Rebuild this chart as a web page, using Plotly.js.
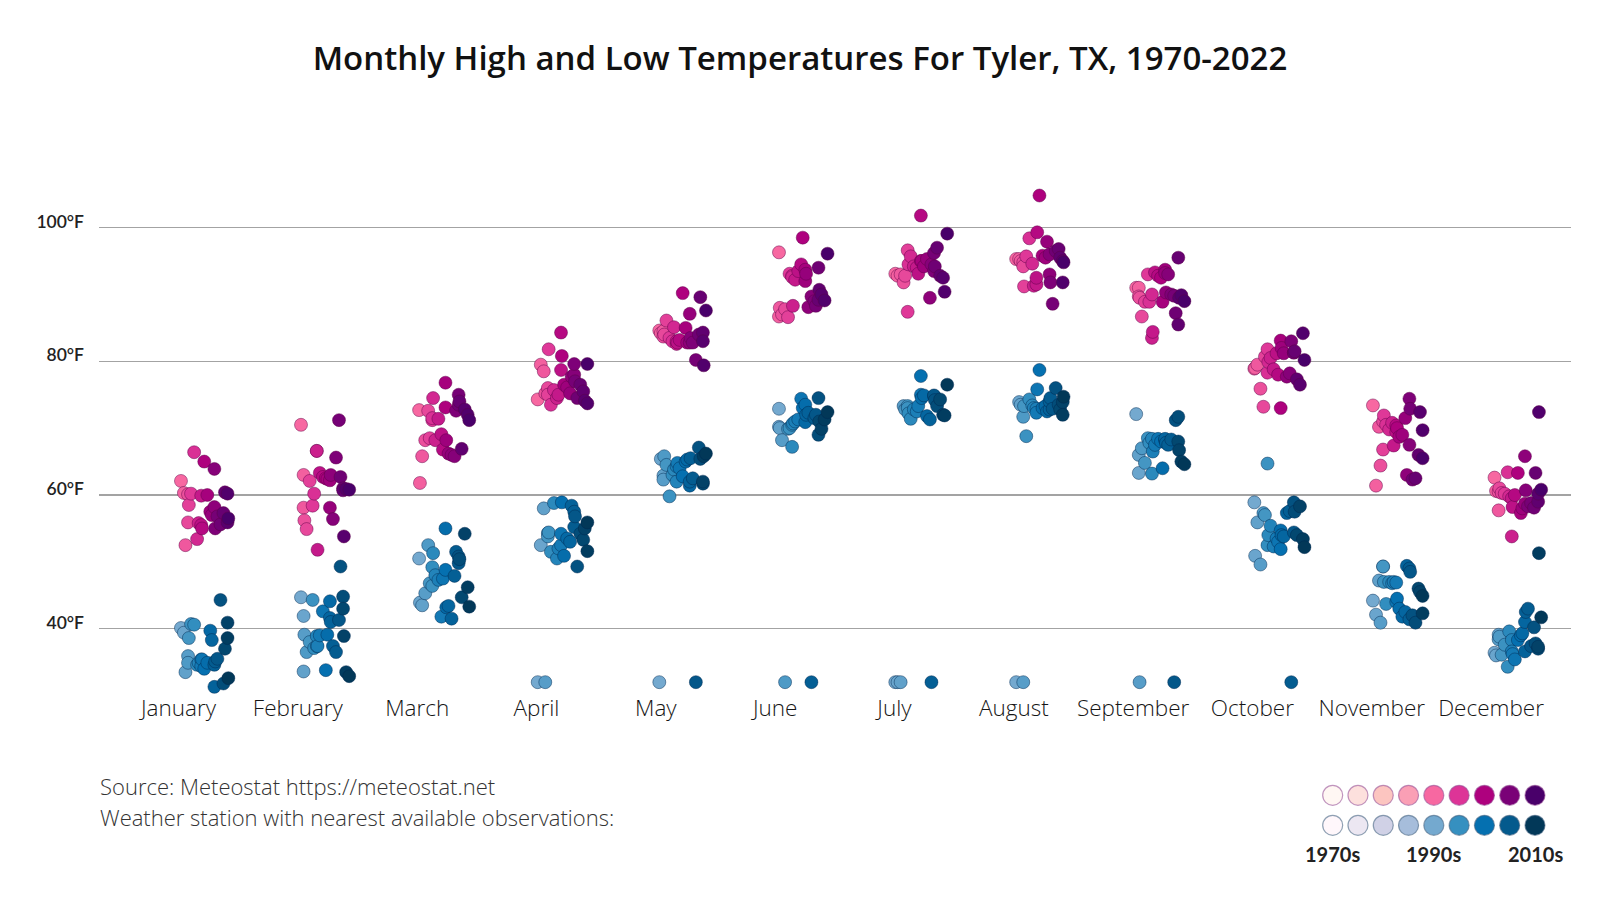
<!DOCTYPE html>
<html>
<head>
<meta charset="utf-8">
<script src="https://cdn.plot.ly/plotly-3.0.1.min.js"></script>
<style>
  html, body { margin: 0; padding: 0; background: #fff; }
  #chart { width: 1600px; height: 898px; }
</style>
</head>
<body>
<div id="chart"></div>
<script>
// Years of record shown in the strip plot (one value per year and month).
const years = [1996, 1997, 1998, 1999, 2000, 2001, 2002, 2003, 2004, 2005, 2006, 2007, 2008, 2009,
               2010, 2011, 2012, 2013, 2014, 2015, 2016, 2017, 2018, 2019, 2020, 2021, 2022];

const months = ['January', 'February', 'March', 'April', 'May', 'June', 'July',
                'August', 'September', 'October', 'November', 'December'];

// Average daily high (°F) per month, in year order.
const janHigh = [62.1, 60.3, 52.5, 60.1, 55.9, 58.5, 60.2, 66.4, 53.4, 55.8, 59.9, 55.5, 55.0, 65.0, 60.0, 57.5, 57.0, 58.2, 63.9, 55.0, 56.8, 55.6, 57.3, 60.4, 55.9, 60.2, 56.5];
const febHigh = [70.5, 63.0, 58.1, 56.2, 54.9, 62.1, 58.4, 60.2, 66.6, 66.6, 51.8, 63.3, 62.7, 62.5, 62.4, 62.2, 58.1, 63.0, 56.4, 65.6, 71.2, 62.7, 61.0, 60.7, 53.8, 60.9, 60.8];
const marHigh = [72.7, 61.8, 65.8, 68.2, 72.6, 68.5, 71.2, 71.5, 74.5, 68.2, 71.4, 69.1, 66.8, 73.1, 76.8, 68.2, 66.2, 66.0, 65.8, 72.6, 75.0, 73.5, 74.0, 66.9, 72.8, 72.0, 71.2];
const aprHigh = [74.3, 79.5, 78.5, 75.2, 76.0, 75.0, 81.8, 73.5, 75.7, 74.5, 75.0, 78.7, 84.3, 80.8, 76.5, 76.1, 75.2, 77.7, 78.0, 79.6, 77.0, 74.5, 76.5, 75.5, 74.1, 73.7, 79.6];
const mayHigh = [84.6, 84.2, 84.5, 83.7, 84.0, 86.1, 83.5, 83.0, 85.1, 82.6, 83.0, 82.8, 83.2, 90.2, 85.0, 82.8, 87.1, 82.8, 83.5, 82.8, 80.2, 84.0, 89.6, 84.3, 83.0, 79.4, 87.6];
const junHigh = [96.3, 86.7, 88.0, 87.0, 87.8, 86.6, 93.1, 92.8, 92.6, 88.3, 92.2, 93.5, 94.5, 98.5, 93.7, 92.0, 93.1, 88.1, 89.7, 89.0, 88.3, 94.0, 89.2, 90.7, 90.0, 89.1, 96.1];
const julHigh = [93.1, 92.8, 93.0, 91.8, 92.8, 96.6, 87.4, 94.5, 95.7, 94.2, 94.0, 93.1, 101.8, 95.0, 95.0, 94.2, 95.3, 89.5, 94.5, 93.5, 96.2, 94.2, 97.0, 92.8, 92.5, 90.4, 99.1];
const augHigh = [95.3, 95.3, 95.0, 94.8, 94.2, 91.2, 95.7, 98.4, 94.6, 91.3, 91.5, 92.5, 99.3, 104.8, 95.8, 95.5, 97.9, 93.0, 96.0, 91.8, 88.6, 96.5, 96.8, 95.5, 95.0, 91.8, 94.8];
const sepHigh = [91.0, 91.0, 89.7, 89.5, 86.7, 88.9, 93.0, 88.9, 90.0, 83.5, 84.4, 93.3, 92.8, 92.5, 88.9, 93.7, 93.2, 90.3, 93.0, 90.0, 89.8, 87.2, 95.5, 85.5, 89.5, 89.9, 89.0];
const octHigh = [78.9, 79.0, 79.5, 75.9, 73.2, 80.7, 81.8, 78.3, 79.9, 80.5, 78.8, 81.2, 78.0, 73.0, 83.1, 82.0, 81.2, 77.7, 78.2, 83.0, 81.3, 81.3, 81.5, 77.3, 76.5, 84.2, 80.2];
const novHigh = [73.4, 61.4, 70.2, 64.4, 71.0, 66.8, 71.9, 70.5, 69.8, 70.8, 67.4, 69.4, 70.4, 70.0, 68.7, 69.0, 71.5, 63.0, 67.5, 74.4, 72.9, 62.3, 62.5, 66.0, 72.4, 69.7, 65.5];
const decHigh = [62.6, 60.6, 57.7, 60.5, 61.0, 60.3, 60.2, 63.4, 59.8, 53.8, 59.5, 58.2, 60.0, 63.3, 57.3, 58.0, 58.7, 65.8, 60.7, 58.3, 58.8, 58.1, 63.3, 59.0, 60.2, 72.4, 60.8];

// Average daily low (°F) per month, in year order (32 = station reported 0 °C).
const janLow = [40.1, 39.4, 33.5, 35.9, 34.9, 38.6, 40.7, 40.6, 34.6, 34.9, 35.4, 34.4, 35.4, 34.0, 34.9, 39.7, 38.3, 31.3, 34.6, 35.1, 35.5, 44.3, 31.8, 37.0, 40.9, 38.6, 32.6];
const febLow = [44.7, 41.9, 33.6, 39.1, 36.5, 38.0, 44.3, 37.1, 37.4, 38.9, 37.4, 39.0, 42.6, 33.8, 39.1, 44.1, 41.6, 41.0, 37.4, 36.5, 41.3, 49.3, 44.8, 43.0, 38.9, 33.5, 32.9];
const marLow = [50.5, 43.9, 43.5, 45.3, 52.5, 46.8, 46.4, 49.2, 51.3, 48.0, 47.3, 41.8, 47.5, 48.8, 55.0, 43.2, 43.4, 41.5, 47.9, 51.5, 49.8, 50.8, 50.4, 44.7, 54.2, 46.2, 43.3];
const aprLow = [32, 52.5, 58.0, 32, 54.3, 53.8, 54.4, 51.5, 58.8, 50.5, 52.0, 52.5, 54.2, 58.9, 50.9, 53.5, 53.0, 58.4, 57.5, 55.2, 56.8, 49.3, 54.2, 53.3, 55.0, 51.6, 55.9];
const mayLow = [32, 65.4, 62.9, 62.3, 65.8, 64.5, 59.8, 63.0, 63.8, 62.0, 64.3, 64.8, 64.0, 62.8, 65.0, 65.3, 61.4, 62.0, 65.5, 62.5, 32, 67.1, 65.4, 61.7, 62.0, 65.8, 66.2];
const junLow = [72.9, 70.2, 70.0, 68.2, 32, 69.9, 70.0, 70.5, 67.2, 70.7, 71.0, 71.3, 74.4, 73.0, 73.5, 70.9, 72.0, 72.3, 32, 71.5, 72.0, 74.5, 69.0, 71.0, 69.9, 71.3, 72.4];
const julLow = [32, 32, 32, 73.3, 72.8, 73.3, 73.0, 72.2, 71.4, 72.8, 72.5, 73.3, 75.0, 77.8, 74.5, 74.9, 71.8, 71.3, 32, 74.8, 74.9, 74.2, 73.3, 74.3, 72.0, 71.9, 76.5];
const augLow = [32, 73.9, 73.5, 32, 71.7, 73.3, 68.8, 74.3, 73.4, 73.0, 72.9, 72.3, 75.8, 78.7, 73.0, 73.3, 72.5, 72.8, 74.0, 74.5, 72.9, 76.0, 73.5, 72.8, 73.9, 72.0, 74.7];
const sepLow = [72.1, 63.3, 66.0, 32, 67.0, 64.8, 68.5, 67.8, 63.2, 68.4, 66.5, 67.5, 68.4, 68.0, 64.0, 68.2, 68.4, 67.8, 67.5, 68.3, 32, 71.2, 71.7, 68.0, 66.7, 65.0, 64.6];
const octLow = [58.9, 50.9, 55.9, 49.6, 57.3, 57.0, 64.7, 52.5, 54.0, 55.4, 52.3, 53.5, 53.0, 51.9, 54.7, 54.0, 53.8, 57.3, 57.6, 32, 54.4, 58.9, 57.5, 54.0, 58.3, 53.4, 52.2];
const novLow = [44.2, 42.1, 47.2, 40.9, 49.3, 49.3, 47.0, 43.7, 47.0, 46.8, 47.0, 46.9, 44.0, 44.5, 43.0, 41.8, 42.5, 49.4, 41.4, 49.0, 48.5, 42.0, 40.9, 46.0, 45.5, 42.3, 44.9];
const decLow = [36.4, 36.0, 39.1, 38.4, 38.8, 36.1, 37.6, 34.3, 39.6, 38.3, 36.6, 36.2, 35.4, 38.3, 39.0, 39.3, 41.0, 36.6, 42.5, 43.0, 37.4, 40.2, 37.8, 37.0, 37.3, 51.3, 41.7];

const yTicks = [40, 60, 80, 100];
const yTickText = ['40°F', '60°F', '80°F', '100°F'];

// Decade colour keys (ColorBrewer RdPu / PuBu, 9 classes).
const highColors = ['#fff7f3', '#fde0dd', '#fcc5c0', '#fa9fb5', '#f768a1', '#dd3497', '#ae017e', '#7a0177', '#49006a'];
const lowColors  = ['#fff7fb', '#ece7f2', '#d0d1e6', '#a6bddb', '#74a9cf', '#3690c0', '#0570b0', '#045a8d', '#023858'];
const decadeLabels = ['1970s', '1990s', '2010s'];
const colorMin = 1970, colorMax = 2022;

const highByMonth = [janHigh, febHigh, marHigh, aprHigh, mayHigh, junHigh, julHigh, augHigh, sepHigh, octHigh, novHigh, decHigh];
const lowByMonth  = [janLow, febLow, marLow, aprLow, mayLow, junLow, julLow, augLow, sepLow, octLow, novLow, decLow];

// Horizontal spread of each month's strip: later years sit further right,
// with a small fixed wobble so the dots don't line up in a ruler-straight row.
const wobble = [0, 0.012, -0.01, 0.006, -0.013, 0.009, -0.004];
function stripX(monthIdx, yearIdx) {
  const span = years[years.length - 1] - years[0];
  return monthIdx + 0.02 + 0.41 * (years[yearIdx] - years[0]) / span +
         wobble[(yearIdx * 5 + monthIdx * 3) % wobble.length];
}

function buildStrip(byMonth) {
  const xs = [], ys = [], cs = [];
  byMonth.forEach((vals, m) => {
    vals.forEach((v, i) => {
      if (v === null) return;
      xs.push(stripX(m, i));
      ys.push(v);
      cs.push(years[i]);
    });
  });
  return { xs, ys, cs };
}

function toScale(colors) {
  return colors.map((c, i) => [i / (colors.length - 1), c]);
}

const lows = buildStrip(lowByMonth);
const highs = buildStrip(highByMonth);

const lowTrace = {
  type: 'scatter', mode: 'markers', x: lows.xs, y: lows.ys,
  cliponaxis: false, hoverinfo: 'skip',
  marker: {
    size: 13, color: lows.cs, colorscale: toScale(lowColors), cmin: colorMin, cmax: colorMax,
    showscale: false, line: { width: 1, color: 'rgba(0,40,80,0.45)' }
  }
};
const highTrace = {
  type: 'scatter', mode: 'markers', x: highs.xs, y: highs.ys,
  cliponaxis: false, hoverinfo: 'skip',
  marker: {
    size: 13, color: highs.cs, colorscale: toScale(highColors), cmin: colorMin, cmax: colorMax,
    showscale: false, line: { width: 1, color: 'rgba(90,0,70,0.45)' }
  }
};

// Decade key: two rows of swatches in their own little axis box.
const keyIdx = highColors.map((_, i) => i);
const keyTrace = {
  type: 'scatter', mode: 'markers', xaxis: 'x2', yaxis: 'y2', hoverinfo: 'skip',
  x: keyIdx.concat(keyIdx),
  y: keyIdx.map(() => 1).concat(keyIdx.map(() => 0)),
  cliponaxis: false,
  marker: {
    size: 20,
    color: highColors.concat(lowColors),
    line: { width: 1.2, color: keyIdx.map(() => 'rgba(150,80,150,0.6)').concat(keyIdx.map(() => 'rgba(70,100,130,0.6)')) }
  }
};

const W = 1600, H = 898;
const plotL = 99, plotR = 1571, plotT = 174, plotB = 694;
const font = '"Open Sans", Lato, sans-serif';
const numFont = 'Lato, "Open Sans", sans-serif';

const annotations = [
  { text: 'Source: Meteostat https://meteostat.net', xref: 'paper', yref: 'paper',
    x: 98 / W, y: 1 - 786 / H, xanchor: 'left', yanchor: 'middle', showarrow: false,
    font: { family: font, size: 22, color: '#333', weight: 300 } },
  { text: 'Weather station with nearest available observations:', xref: 'paper', yref: 'paper',
    x: 98 / W, y: 1 - 817 / H, xanchor: 'left', yanchor: 'middle', showarrow: false,
    font: { family: font, size: 22, color: '#333', weight: 300 } }
];
decadeLabels.forEach((t, k) => {
  annotations.push({ text: t, xref: 'x2', yref: 'y2', x: k * 4, y: -0.97, showarrow: false,
    xanchor: 'center', yanchor: 'middle', font: { family: numFont, size: 20, color: '#222', weight: 700 } });
});

const layout = {
  width: W, height: H,
  margin: { l: 0, r: 0, t: 0, b: 0 },
  paper_bgcolor: '#fff', plot_bgcolor: 'rgba(0,0,0,0)',
  showlegend: false,
  font: { family: font, color: '#222' },
  title: {
    text: 'Monthly High and Low Temperatures For Tyler, TX, 1970-2022',
    x: 0.5, xanchor: 'center', yref: 'container', y: 1 - 58 / H, yanchor: 'middle',
    font: { family: font, size: 33, color: '#111', weight: 600 }
  },
  xaxis: {
    domain: [plotL / W, plotR / W], range: [-0.667, 11.67],
    tickvals: months.map((_, i) => i), ticktext: months,
    showgrid: false, zeroline: false, showline: false, ticks: '',
    ticklabelstandoff: -2,
    tickfont: { family: font, size: 22.5, color: '#161616', weight: 300 }, fixedrange: true
  },
  yaxis: {
    domain: [1 - plotB / H, 1 - plotT / H], range: [30.23, 108.02],
    tickvals: yTicks, ticktext: yTickText,
    showgrid: true, gridcolor: '#a3a3a3', gridwidth: 1.5,
    zeroline: false, showline: false, ticks: '',
    ticklabelstandoff: 14, ticklabelshift: -6,
    tickfont: { family: numFont, size: 17.5, color: '#222', weight: 600 }, fixedrange: true
  },
  xaxis2: { domain: [1320 / W, 1548 / W], anchor: 'y2', range: [-0.502, 8.514], visible: false, fixedrange: true },
  yaxis2: { domain: [1 - 872 / H, 1 - 782 / H], anchor: 'x2', range: [-1.557, 1.443], visible: false, fixedrange: true },
  annotations: annotations
};

Plotly.newPlot('chart', [lowTrace, highTrace, keyTrace], layout, { displayModeBar: false, staticPlot: true });
</script>
</body>
</html>
